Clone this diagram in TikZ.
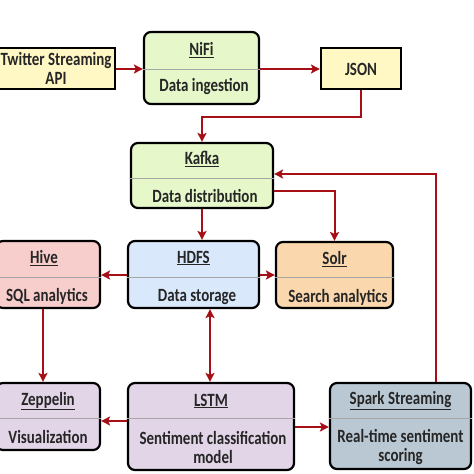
\documentclass[tikz,border=0pt]{standalone}
\usepackage{fontspec}
\setmainfont{Carlito}[FakeStretch=0.8]
\usetikzlibrary{arrows.meta}
\definecolor{cgreen}{HTML}{E6F7C9}
\definecolor{cyellow}{HTML}{FFF8C4}
\definecolor{cpink}{HTML}{F8CECC}
\definecolor{cblue}{HTML}{DAE8FC}
\definecolor{cpeach}{HTML}{FAD7AC}
\definecolor{clav}{HTML}{E1D5E7}
\definecolor{cslate}{HTML}{BAC8D3}
\definecolor{carrow}{HTML}{A50F15}
\tikzset{
  x=1pt,y=-1pt,
  box/.style={draw=black,line width=2.2pt,rounded corners=7pt,inner sep=0pt},
  sqbox/.style={draw=black,line width=2.2pt,inner sep=0pt},
  txt/.style={font=\fontsize{18.7}{19}\selectfont\bfseries,inner sep=0pt,align=center,text=black!85},
  divider/.style={draw=black!35,line width=0.6pt},
  conn/.style={draw=carrow,line width=2pt,-{Stealth[length=9pt,width=9pt,inset=2pt]}},
  conn2/.style={draw=carrow,line width=2pt,{Stealth[length=9pt,width=9pt,inset=2pt]}-{Stealth[length=9pt,width=9pt,inset=2pt]}}
}
\newcommand{\ul}[1]{\underline{#1}}
\begin{document}
\begin{tikzpicture}
\useasboundingbox (0,0) rectangle (474,474);
% Twitter
\node[sqbox,fill=cyellow,minimum width=122pt,minimum height=41pt] (tw) at (54,68.5) {};
\node[txt] (twt) at (56,68.5) {Twitter Streaming\\API};
% NiFi
\node[box,fill=cgreen,minimum width=115pt,minimum height=72pt] (nifi) at (201.5,68) {};
\draw[divider] (nifi.west |- 0,69) -- (nifi.east |- 0,69);
\node[txt] (nifit) at (201.5,50) {\ul{NiFi}};
\node[txt] (nifib) at (204,87) {Data ingestion};
% JSON
\node[sqbox,fill=cyellow,minimum width=80pt,minimum height=41pt] (json) at (361,68.5) {};
\node[txt] (jsont) at (361,69) {JSON};
% Kafka
\node[box,fill=cgreen,minimum width=142pt,minimum height=65pt] (kafka) at (202,175.5) {};
\draw[divider] (kafka.west |- 0,178) -- (kafka.east |- 0,178);
\node[txt] (kafkat) at (202,159) {\ul{Kafka}};
\node[txt] (kafkab) at (205,196) {Data distribution};
% Hive
\node[box,fill=cpink,minimum width=104pt,minimum height=67pt] (hive) at (48,274.5) {};
\draw[divider] (hive.west |- 0,277) -- (hive.east |- 0,277);
\node[txt] (hivet) at (44,258) {\ul{Hive}};
\node[txt] (hiveb) at (47,296) {SQL analytics};
% HDFS
\node[box,fill=cblue,minimum width=131pt,minimum height=67pt] (hdfs) at (193.5,274.5) {};
\draw[divider] (hdfs.west |- 0,277) -- (hdfs.east |- 0,277);
\node[txt] (hdfst) at (193.5,258) {\ul{HDFS}};
\node[txt] (hdfsb) at (197,297) {Data storage};
% Solr
\node[box,fill=cpeach,minimum width=117pt,minimum height=66pt] (solr) at (334.5,275) {};
\draw[divider] (solr.west |- 0,277) -- (solr.east |- 0,277);
\node[txt] (solrt) at (334.5,259) {\ul{Solr}};
\node[txt] (solrb) at (338,297) {Search analytics};
% Zeppelin
\node[box,fill=clav,minimum width=104pt,minimum height=67pt] (zep) at (48,416.5) {};
\draw[divider] (zep.west |- 0,418) -- (zep.east |- 0,418);
\node[txt] (zept) at (48,401) {\ul{Zeppelin}};
\node[txt] (zepb) at (48,437) {Visualization};
% LSTM
\node[box,fill=clav,minimum width=166pt,minimum height=87pt] (lstm) at (211,426.5) {};
\draw[divider] (lstm.west |- 0,418) -- (lstm.east |- 0,418);
\node[txt] (lstmt) at (211,401) {\ul{LSTM}};
\node[txt] (lstmb) at (213,447) {Sentiment classification\\model};
% Spark
\node[box,fill=cslate,minimum width=141pt,minimum height=86pt] (spark) at (400.5,426) {};
\draw[divider] (spark.west |- 0,418) -- (spark.east |- 0,418);
\node[txt] (sparkt) at (400.5,401) {\ul{Spark Streaming}};
\node[txt] (sparkb) at (400.5,447) {Real-time sentiment\\scoring};
% connectors
\draw[conn] (tw.east |- 0,69) -- (nifi.west |- 0,69);
\draw[conn] (nifi.east |- 0,69) -- (json.west |- 0,69);
\coordinate (jk) at (361,117);
\draw[conn] (json.south) -- (jk) -| (kafka.north);
\draw[conn] (kafka.south) -- (kafka.south |- hdfs.north);
\coordinate (ks) at (273,191);
\draw[conn] (kafka.east |- ks) -| (solr.north);
\coordinate (sk) at (436,174);
\draw[conn] (spark.north -| sk) |- (kafka.east |- sk);
\coordinate (hh) at (0,275);
\draw[conn] (hdfs.west |- hh) -- (hive.east |- hh);
\draw[conn] (hdfs.east |- hh) -- (solr.west |- hh);
\coordinate (hz) at (43,0);
\draw[conn] (hive.south -| hz) -- (zep.north -| hz);
\coordinate (hl) at (210,0);
\draw[conn2] (hdfs.south -| hl) -- (lstm.north -| hl);
\coordinate (lz) at (0,421);
\draw[conn] (lstm.west |- lz) -- (zep.east |- lz);
\coordinate (ls) at (0,427);
\draw[conn] (lstm.east |- ls) -- (spark.west |- ls);
\end{tikzpicture}
\end{document}
